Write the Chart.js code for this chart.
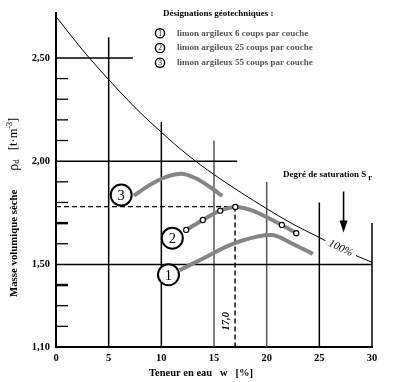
<!DOCTYPE html>
<html><head><meta charset="utf-8">
<script src="https://cdn.jsdelivr.net/npm/chart.js@4"></script>
<style>html,body{margin:0;padding:0;background:#fff}#wrap{width:400px;height:382px;position:relative}</style>
</head><body><div id="wrap"><canvas id="c"></canvas></div>
<script>
const X_TICKS = [0, 5, 10, 15, 20, 25, 30];
const Y_TICKS = [1.10, 1.50, 2.00, 2.50];
const Y_MINOR = [1.20, 1.30, 1.40, 1.60, 1.70, 1.80, 1.90, 2.10, 2.20, 2.30, 2.40];
const Y_MINOR_BOLD = [1.40, 1.70];
const SAT_W   = [0, 2.5, 5, 7.5, 10, 12.5, 15, 17.5, 20, 22.5, 25, 27.5, 30];
const SAT_RHO = [2.70, 2.54, 2.395, 2.26, 2.14, 2.03, 1.935, 1.85, 1.77, 1.695, 1.63, 1.565, 1.51];
const C1_W   = [11.73, 13.63, 16.79, 19.96, 20.44, 22.49, 24.39];
const C1_RHO = [1.472, 1.520, 1.599, 1.642, 1.643, 1.599, 1.551];
const C2_W   = [12.36, 13.94, 15.59, 17.02, 21.44, 22.81];
const C2_RHO = [1.667, 1.715, 1.760, 1.778, 1.691, 1.651];
const C3_W   = [7.39, 8.88, 10.47, 11.89, 13.31, 14.58, 15.78];
const C3_RHO = [1.833, 1.884, 1.924, 1.939, 1.916, 1.876, 1.832];
const LABEL_NUM = ['1', '2', '3'];
const LABEL_W   = [10.68, 11.04, 6.19];
const LABEL_RHO = [1.45, 1.627, 1.836];
const OPT_W = 17.0, OPT_RHO = 1.78, OPT_TEXT = '17,0';
const GRID_V_W   = [5, 10, 15, 20, 25, 30];
const GRID_V_TOP = [2.60, 2.19, 2.10, 1.90, 1.80, 1.70];
const GRID_H_RHO = [2.50, 2.00, 1.50];
const GRID_H_END = [7.3, 17.2, 30];
const LEGEND_TITLE = 'Désignations géotechniques :';
const LEGEND_ITEMS = ['limon argileux 6 coups par couche', 'limon argileux 25 coups par couche', 'limon argileux 55 coups par couche'];
const SAT_TEXT = 'Degré de saturation S', SAT_SUB = 'r', SAT_PCT = '100%';
const X_TITLE = 'Teneur en eau   w   [%]';

const zip = (a, b) => a.map((v, i) => ({x: v, y: b[i]}));
const SERIF = '"Liberation Serif", "Times New Roman", serif';
const GRAY = '#858585';

const custom = {
  id: 'custom',
  beforeDatasetsDraw(chart) {
    const {ctx, scales: {x, y}, chartArea: a} = chart;
    const seg = (x0, y0, x1, y1) => { ctx.beginPath(); ctx.moveTo(x0, y0); ctx.lineTo(x1, y1); ctx.stroke(); };
    ctx.save();
    ctx.lineWidth = 1.5;
    GRID_V_W.forEach((w, i) => {
      ctx.strokeStyle = (w === 15 || w === 20) ? '#555' : '#000';
      const px = x.getPixelForValue(w);
      seg(px, y.getPixelForValue(1.10), px, y.getPixelForValue(GRID_V_TOP[i]));
    });
    ctx.strokeStyle = '#000';
    GRID_H_RHO.forEach((r, i) => {
      const py = y.getPixelForValue(r);
      seg(x.getPixelForValue(0), py, x.getPixelForValue(GRID_H_END[i]), py);
    });
    Y_MINOR.forEach(r => {
      ctx.lineWidth = Y_MINOR_BOLD.includes(r) ? 2.5 : 1.3;
      const py = y.getPixelForValue(r);
      seg(a.left, py, a.left + 12, py);
    });
    ctx.lineWidth = 1.4;
    ctx.setLineDash([5, 3]);
    const ox = x.getPixelForValue(OPT_W), oy = y.getPixelForValue(OPT_RHO);
    seg(x.getPixelForValue(0), oy, ox, oy);
    seg(ox, oy, ox, y.getPixelForValue(1.10));
    ctx.restore();
  },
  afterDatasetsDraw(chart) {
    const {ctx, scales: {x, y}} = chart;
    ctx.save();
    ctx.fillStyle = '#000';
    ctx.textBaseline = 'middle';
    ctx.textAlign = 'center';
    // numbers in circles
    ctx.font = '14.5px ' + SERIF;
    LABEL_NUM.forEach((t, i) => ctx.fillText(t, x.getPixelForValue(LABEL_W[i]), y.getPixelForValue(LABEL_RHO[i]) + 1));
    // 100% label on saturation curve
    const p0x = x.getPixelForValue(25), p0y = y.getPixelForValue(1.63);
    const p1x = x.getPixelForValue(30), p1y = y.getPixelForValue(1.51);
    const ang = Math.atan2(p1y - p0y, p1x - p0x);
    ctx.save();
    ctx.translate(x.getPixelForValue(27.02), y.getPixelForValue(1.578));
    ctx.rotate(ang);
    ctx.fillStyle = '#fff';
    ctx.fillRect(-17, -6, 34, 12);
    ctx.fillStyle = '#000';
    ctx.font = 'italic 11px ' + SERIF;
    ctx.fillText(SAT_PCT, 0, 0);
    ctx.restore();
    // 17,0
    ctx.save();
    ctx.translate(x.getPixelForValue(OPT_W) - 8.5, y.getPixelForValue(1.225));
    ctx.rotate(-Math.PI / 2);
    ctx.font = 'italic bold 10.5px ' + SERIF;
    ctx.fillText(OPT_TEXT, 0, 0);
    ctx.restore();
    // arrow
    const ax = x.getPixelForValue(27.3), ay0 = y.getPixelForValue(1.853), ay1 = y.getPixelForValue(1.655);
    ctx.lineWidth = 1.6;
    ctx.strokeStyle = '#000';
    ctx.beginPath(); ctx.moveTo(ax, ay0); ctx.lineTo(ax, ay1 - 10); ctx.stroke();
    ctx.beginPath(); ctx.moveTo(ax - 4, ay1 - 12); ctx.lineTo(ax + 4, ay1 - 12); ctx.lineTo(ax, ay1); ctx.closePath(); ctx.fill();
    // saturation caption
    ctx.textAlign = 'left';
    ctx.font = 'bold 9px ' + SERIF;
    ctx.fillText(SAT_TEXT, 283, 175);
    const sw = ctx.measureText(SAT_TEXT).width;
    ctx.font = 'bold 8px ' + SERIF;
    ctx.fillText(SAT_SUB, 283 + sw + 2, 178);
    // legend
    ctx.font = 'bold 9px ' + SERIF;
    ctx.fillText(LEGEND_TITLE, 163, 13.5);
    LEGEND_ITEMS.forEach((t, i) => {
      const cy = 33.3 + i * 14.7;
      ctx.beginPath(); ctx.arc(160, cy, 4.6, 0, Math.PI * 2);
      ctx.fillStyle = '#fff'; ctx.fill();
      ctx.lineWidth = 1.4; ctx.strokeStyle = '#000'; ctx.stroke();
      ctx.fillStyle = '#000'; ctx.textAlign = 'center'; ctx.font = '7.5px ' + SERIF;
      ctx.fillText(LABEL_NUM[i], 160, cy + 0.5);
      ctx.textAlign = 'left'; ctx.font = 'bold 9px ' + SERIF; ctx.fillStyle = '#555';
      ctx.fillText(t, 177, cy);
      ctx.fillStyle = '#000';
    });
    // x title
    ctx.textAlign = 'center';
    ctx.font = 'bold 10.5px ' + SERIF;
    ctx.fillText(X_TITLE, 201, 373);
    // y title
    ctx.save();
    ctx.translate(14, 297);
    ctx.rotate(-Math.PI / 2);
    ctx.textAlign = 'left';
    let cx = 0;
    const part = (t, font, dy) => { ctx.font = font; ctx.fillText(t, cx, dy); cx += ctx.measureText(t).width; };
    part('Masse volumique sèche', 'bold 10.8px ' + SERIF, 0);
    cx += 19;
    part('ρ', '14px ' + SERIF, 0);
    part('d', '9px ' + SERIF, 3);
    cx += 9;
    part('[t·m', '12.5px ' + SERIF, 0);
    part('-3', '8px ' + SERIF, -4);
    part(']', '12.5px ' + SERIF, 0);
    ctx.restore();
    ctx.restore();
  }
};

new Chart(document.getElementById('c'), {
  type: 'line',
  data: {
    datasets: [
      {data: zip(SAT_W, SAT_RHO), borderColor: '#000', borderWidth: 1, pointRadius: 0, cubicInterpolationMode: 'monotone'},
      {data: zip(C1_W, C1_RHO), borderColor: GRAY, borderWidth: 4, pointRadius: 0, cubicInterpolationMode: 'monotone'},
      {data: zip(C2_W, C2_RHO), borderColor: GRAY, borderWidth: 4, pointRadius: 2.6, pointBackgroundColor: '#fff', pointBorderColor: '#000', pointBorderWidth: 1.1, cubicInterpolationMode: 'monotone'},
      {data: zip(C3_W, C3_RHO), borderColor: GRAY, borderWidth: 4, pointRadius: 0, cubicInterpolationMode: 'monotone'},
      {data: zip(LABEL_W, LABEL_RHO), showLine: false, pointRadius: 10.5, pointBackgroundColor: '#fff', pointBorderColor: '#000', pointBorderWidth: 2, clip: false}
    ]
  },
  options: {
    responsive: true,
    maintainAspectRatio: false,
    animation: false,
    events: [],
    layout: {padding: {left: 0, right: 28, top: 6, bottom: 0}},
    plugins: {legend: {display: false}, tooltip: {enabled: false}},
    scales: {
      x: {
        type: 'linear', min: 0, max: 30,
        afterBuildTicks: s => { s.ticks = X_TICKS.map(v => ({value: v})); },
        afterFit: s => { s.height = 35; },
        grid: {display: false, drawTicks: false},
        border: {display: true, color: '#000', width: 2},
        ticks: {color: '#000', padding: 5, font: {family: SERIF, size: 10.5, weight: 'bold'}, maxRotation: 0}
      },
      y: {
        type: 'linear', min: 1.10, max: 2.72,
        afterBuildTicks: s => { s.ticks = Y_TICKS.map(v => ({value: v})); },
        afterFit: s => { s.width = 56; },
        grid: {display: false, drawTicks: false},
        border: {display: true, color: '#000', width: 2},
        ticks: {color: '#000', padding: 6, font: {family: SERIF, size: 10.5, weight: 'bold'},
          callback: v => v.toFixed(2).replace('.', ',')}
      }
    }
  },
  plugins: [custom]
});
</script></body></html>
